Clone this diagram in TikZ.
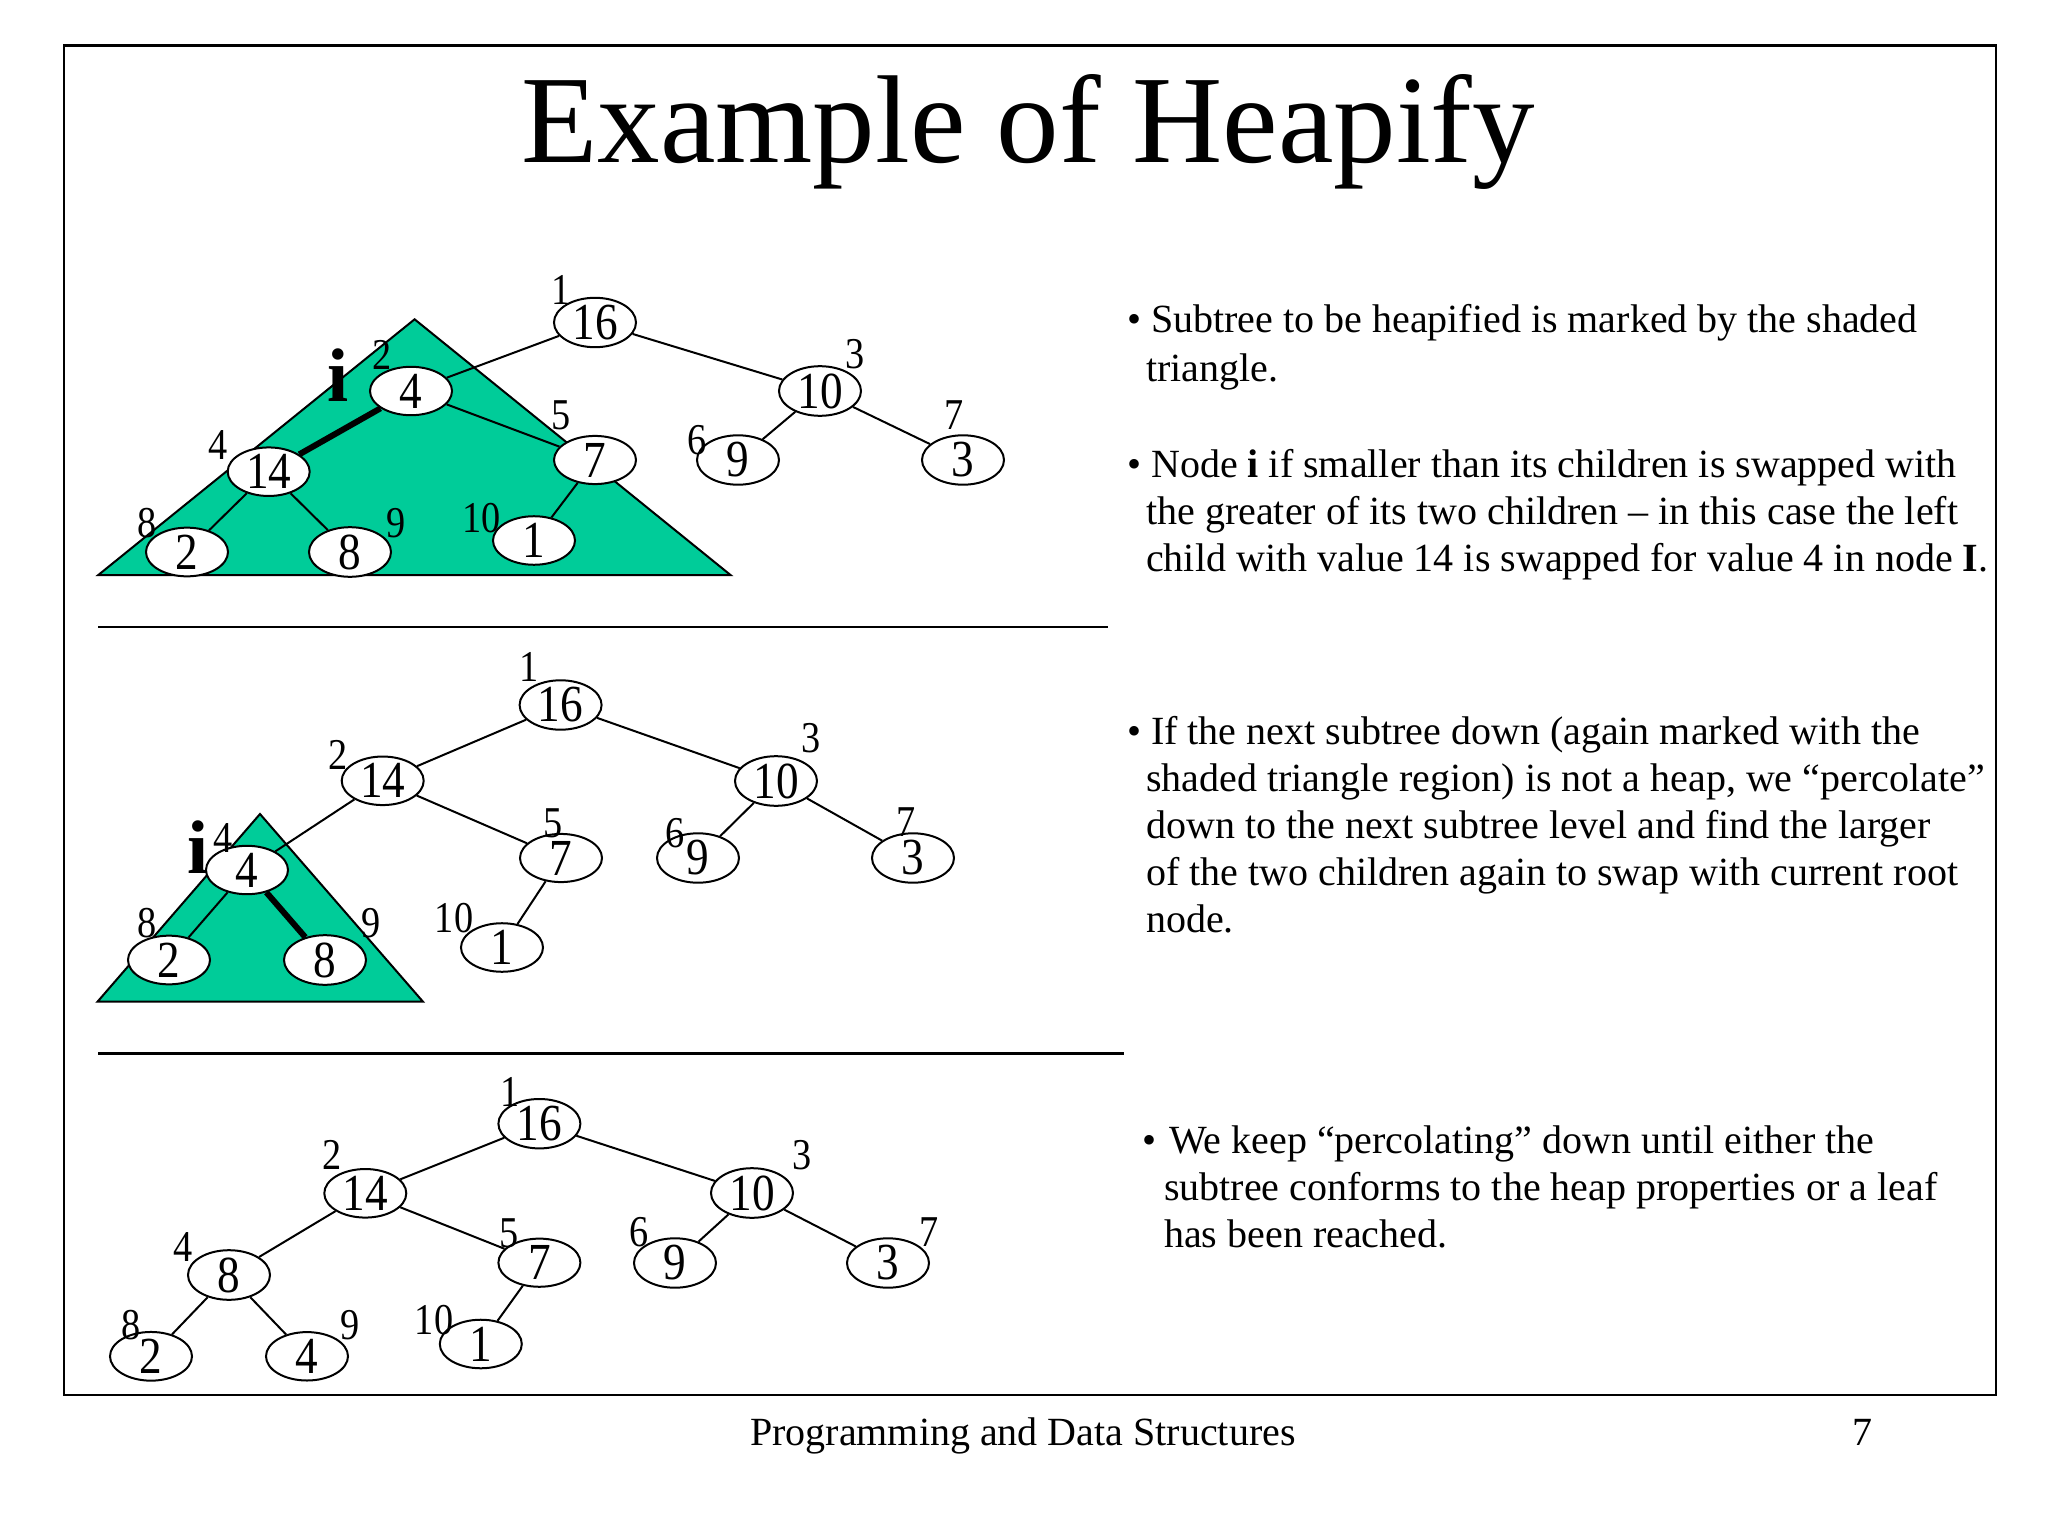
\documentclass[tikz,border=0pt]{standalone}
\usepackage{fontspec}
\setmainfont{Liberation Serif}
\usetikzlibrary{shapes.geometric}
\definecolor{tealfill}{RGB}{0,204,153}
\newcommand\hnum[1]{\scalebox{0.87}[1]{#1}}
\tikzset{
  hnode/.style={ellipse, draw, line width=2pt, fill=white, minimum width=82pt,
    minimum height=47pt, inner sep=0pt, font=\fontsize{52}{60}\selectfont},
  idx/.style={inner sep=0pt, font=\fontsize{44}{50}\selectfont},
  ilabel/.style={inner sep=0pt, font=\fontsize{76}{80}\selectfont\bfseries},
  edge/.style={line width=2pt},
  swap/.style={line width=6pt},
  tri/.style={fill=tealfill, draw=black, line width=2pt, line join=miter},
  body/.style={anchor=base west, inner sep=0pt, font=\fontsize{40}{47}\selectfont},
  rule/.style={line width=2.5pt}
}
\begin{document}
\begin{tikzpicture}[x=1pt,y=-1pt]
\fill[white] (0,0) rectangle (2048,1530);
\useasboundingbox (0,0) rectangle (2048,1530);
\draw[rule] (64,45.5) rectangle (1996,1395);
\draw[rule] (98,627) -- (1108,627);
\draw[rule] (98,1053.5) -- (1124,1053.5);

\node[anchor=base, inner sep=0pt, font=\fontsize{125}{150}\selectfont] (title) at (1028,163) {Example of Heapify};

% ---------- Tree 1 ----------
\draw[tri] (414.6,319.3) -- (98.3,575) -- (730.5,575) -- cycle;
\node[hnode] (a16) at (595,322.5) {\hnum{16}};
\node[hnode] (a4)  at (411,391)   {\hnum{4}};
\node[hnode] (a10) at (820,391)   {\hnum{10}};
\node[hnode] (a14) at (268.7,471.7) {\hnum{14}};
\node[hnode] (a7)  at (595,460)   {\hnum{7}};
\node[hnode] (a9)  at (738,460)   {\hnum{9}};
\node[hnode] (a3)  at (963,460)   {\hnum{3}};
\node[hnode] (a2)  at (187,552)   {\hnum{2}};
\node[hnode] (a8)  at (350,552)   {\hnum{8}};
\node[hnode] (a1)  at (534,540.5) {\hnum{1}};
\draw[edge] (a16) -- (a4);
\draw[edge] (a16) -- (a10);
\draw[edge] (a4) -- (a7);
\draw[edge] (a14) -- (a2);
\draw[edge] (a14) -- (a8);
\draw[edge] (a7) -- (a1);
\draw[edge] (a10) -- (a9);
\draw[edge] (a10) -- (a3);
\draw[swap] (a4) -- (a14);
\node[idx] (al1) at (560.6,290) {\hnum{1}};
\node[idx] (al2) at (382.3,355) {\hnum{2}};
\node[ilabel] (ai) at (337.7,375.5) {i};
\node[idx] (al4) at (218.5,445) {\hnum{4}};
\node[idx] (al5) at (560.6,415) {\hnum{5}};
\node[idx] (al8) at (146.8,523.3) {\hnum{8}};
\node[idx] (al9) at (396,523.3) {\hnum{9}};
\node[idx] (al10) at (481.8,518.3) {\hnum{10}};
\node[idx] (al3) at (855,354) {\hnum{3}};
\node[idx] (al7) at (954,415) {\hnum{7}};
\node[idx] (al6) at (697.4,440) {\hnum{6}};

% ---------- Tree 2 ----------
\draw[tri] (260,814) -- (97.5,1001.7) -- (423,1001.7) -- cycle;
\node[hnode] (b16) at (560.6,705) {\hnum{16}};
\node[hnode] (b14) at (382.7,780.8) {\hnum{14}};
\node[hnode] (b10) at (776,781) {\hnum{10}};
\node[hnode] (b4)  at (247,870) {\hnum{4}};
\node[hnode] (b7)  at (561,858) {\hnum{7}};
\node[hnode] (b9)  at (698,858) {\hnum{9}};
\node[hnode] (b3)  at (913,858) {\hnum{3}};
\node[hnode] (b2)  at (169,960) {\hnum{2}};
\node[hnode] (b8)  at (325,960) {\hnum{8}};
\node[hnode] (b1)  at (502,947.5) {\hnum{1}};
\draw[edge] (b16) -- (b14);
\draw[edge] (b16) -- (b10);
\draw[edge] (b14) -- (b4);
\draw[edge] (b14) -- (b7);
\draw[edge] (b4) -- (b2);
\draw[edge] (b7) -- (b1);
\draw[edge] (b10) -- (b9);
\draw[edge] (b10) -- (b3);
\draw[swap] (b4) -- (b8);
\node[idx] (bl1) at (528.6,666.7) {\hnum{1}};
\node[idx] (bl2) at (338,755) {\hnum{2}};
\node[ilabel] (bi) at (198.3,847.5) {i};
\node[idx] (bl4) at (223.5,838.3) {\hnum{4}};
\node[idx] (bl5) at (553.5,823.3) {\hnum{5}};
\node[idx] (bl6) at (675.4,833.3) {\hnum{6}};
\node[idx] (bl8) at (147.2,923.3) {\hnum{8}};
\node[idx] (bl9) at (371,923.3) {\hnum{9}};
\node[idx] (bl10) at (454,918.3) {\hnum{10}};
\node[idx] (bl3) at (810.7,738.3) {\hnum{3}};
\node[idx] (bl7) at (906,821.7) {\hnum{7}};

% ---------- Tree 3 ----------
\node[hnode] (c16) at (539.4,1123.7) {\hnum{16}};
\node[hnode] (c14) at (365.3,1193.3) {\hnum{14}};
\node[hnode] (c10) at (752,1193) {\hnum{10}};
\node[hnode] (c8)  at (229,1275) {\hnum{8}};
\node[hnode] (c7)  at (539.4,1262.7) {\hnum{7}};
\node[hnode] (c9)  at (675,1263) {\hnum{9}};
\node[hnode] (c3)  at (888,1263) {\hnum{3}};
\node[hnode] (c2)  at (151,1356.3) {\hnum{2}};
\node[hnode] (c4)  at (307,1356.3) {\hnum{4}};
\node[hnode] (c1)  at (480.8,1344) {\hnum{1}};
\draw[edge] (c16) -- (c14);
\draw[edge] (c16) -- (c10);
\draw[edge] (c14) -- (c8);
\draw[edge] (c14) -- (c7);
\draw[edge] (c8) -- (c2);
\draw[edge] (c8) -- (c4);
\draw[edge] (c7) -- (c1);
\draw[edge] (c10) -- (c9);
\draw[edge] (c10) -- (c3);
\node[idx] (cl1) at (509.6,1091.7) {\hnum{1}};
\node[idx] (cl2) at (332.5,1155) {\hnum{2}};
\node[idx] (cl4) at (183.3,1246.7) {\hnum{4}};
\node[idx] (cl5) at (508.7,1233.3) {\hnum{5}};
\node[idx] (cl6) at (639.3,1231.7) {\hnum{6}};
\node[idx] (cl8) at (130.6,1325) {\hnum{8}};
\node[idx] (cl9) at (350.4,1325) {\hnum{9}};
\node[idx] (cl10) at (434,1320) {\hnum{10}};
\node[idx] (cl3) at (801.7,1155) {\hnum{3}};
\node[idx] (cl7) at (929.3,1232.3) {\hnum{7}};

% ---------- Text ----------
\node[body] (p1b) at (1127,333) {•};
\node[body] (p1l1) at (1151,333) {Subtree to be heapified is marked by the shaded};
\node[body] (p1l2) at (1146,381) {triangle.};

\node[body] (p2b) at (1127,477) {•};
\node[body] (p2l1) at (1151,477) {Node \textbf{i} if smaller than its children is swapped with};
\node[body] (p2l2) at (1146,524) {the greater of its two children – in this case the left};
\node[body] (p2l3) at (1146,571) {child with value 14 is swapped for value 4 in node \textbf{I}.};

\node[body] (p3b) at (1127,744) {•};
\node[body] (p3l1) at (1151,744) {If the next subtree down (again marked with the};
\node[body] (p3l2) at (1146,791) {shaded triangle region) is not a heap, we “percolate”};
\node[body] (p3l3) at (1146,838) {down to the next subtree level and find the larger};
\node[body] (p3l4) at (1146,885) {of the two children again to swap with current root};
\node[body] (p3l5) at (1146,932) {node.};

\node[body] (p4b) at (1142,1153) {•};
\node[body] (p4l1) at (1169,1153) {We keep “percolating” down until either the};
\node[body] (p4l2) at (1164,1200) {subtree conforms to the heap properties or a leaf};
\node[body] (p4l3) at (1164,1247) {has been reached.};

% ---------- Footer ----------
\node[anchor=base west, inner sep=0pt, font=\fontsize{40}{48}\selectfont] (foot) at (750,1445) {Programming and Data Structures};
\node[anchor=base, inner sep=0pt, font=\fontsize{40}{48}\selectfont] (pnum) at (1862,1445) {7};
\end{tikzpicture}
\end{document}
